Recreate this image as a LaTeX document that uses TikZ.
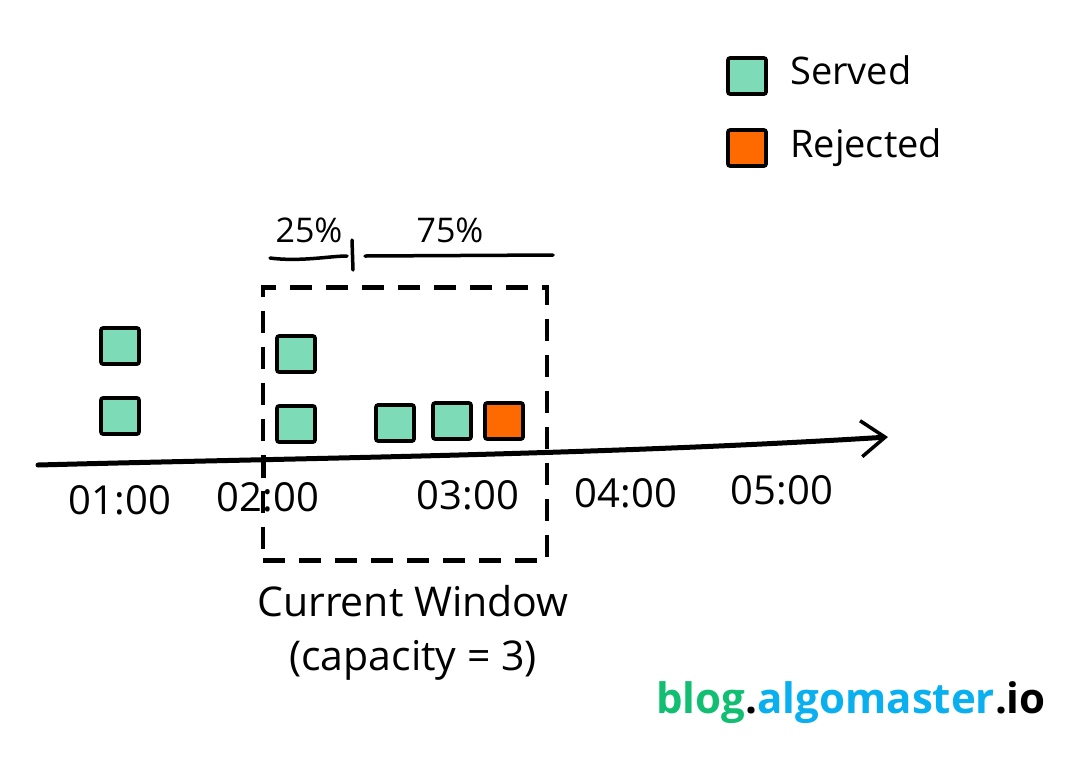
\documentclass[tikz,border=0pt]{standalone}
\usepackage{fontspec}
\setmainfont{Open Sans}
\newfontfamily\wmfont{Open Sans}
\usetikzlibrary{arrows.meta}
\definecolor{servedfill}{HTML}{7DDCB7}
\definecolor{rejfill}{HTML}{FF6A00}
\definecolor{wmgreen}{HTML}{12BF72}
\definecolor{wmblue}{HTML}{0AAFEF}
\tikzset{
  req/.style={draw=black, line width=3.6pt, rounded corners=2pt, minimum width=38pt, minimum height=36pt, inner sep=0pt},
  served/.style={req, fill=servedfill},
  rejected/.style={req, fill=rejfill},
  lbl/.style={font=\fontsize{38}{44}\selectfont, inner sep=0pt},
  caplbl/.style={font=\fontsize{41}{48}\selectfont, inner sep=0pt},
  tlbl/.style={font=\fontsize{40}{46}\selectfont, inner sep=0pt},
  pct/.style={font=\fontsize{34}{40}\selectfont, inner sep=0pt},
  winbox/.style={draw=black, line width=4.5pt, dash pattern=on 22pt off 14pt, minimum width=284pt, minimum height=273pt, inner sep=0pt},
  axisline/.style={line width=5pt, line cap=round, -{Straight Barb[length=24pt, width=36pt, line width=3.5pt]}},
  brk/.style={line width=3.5pt, line cap=round}
}
\begin{document}
\begin{tikzpicture}[x=1pt,y=-1pt]
\useasboundingbox (0,0) rectangle (1086,764);
% legend
\node[served] (ls) at (747,76) {};
\node[lbl, anchor=west] (lst) at (790,70) {Served};
\node[rejected] (lr) at (747,148) {};
\node[lbl, anchor=west] (lrt) at (790,148) {Rejected};
% window
\node[winbox] (win) at (405,424) {};
% axis
\coordinate (a0) at (38,465);
\coordinate (a1) at (888,437);
\draw[axisline] (a0) .. controls (300,458) and (600,455) .. (a1);
% tick at window left on axis
\draw[line width=5pt] (263,455) -- (263,478);
% squares
\node[served] (s1) at (120,346) {};
\node[served] (s2) at (120,416) {};
\node[served] (s3) at (296,354) {};
\node[served] (s4) at (296,424) {};
\node[served] (s5) at (395,423) {};
\node[served] (s6) at (452,421) {};
\node[rejected] (s7) at (504,421) {};
% time labels
\node[tlbl] (t1) at (120,500) {01:00};
\node[tlbl] (t2) at (268,497) {02:00};
\node[tlbl] (t3) at (468,495) {03:00};
\node[tlbl] (t4) at (626,493) {04:00};
\node[tlbl] (t5) at (782,490) {05:00};
% percentage bracket
\node[pct] (p25) at (309,230) {25\%};
\node[pct] (p75) at (450,230) {75\%};
\coordinate (b0) at (270,258);
\coordinate (b1) at (347,256);
\coordinate (bm1) at (352,240);
\coordinate (bm2) at (353,270);
\coordinate (b2) at (365,256);
\coordinate (b3) at (553,255);
\draw[brk] (b0) .. controls (300,262) and (330,256) .. (b1);
\draw[brk] (bm1) -- (bm2);
\draw[brk] (b2) -- (b3);
% caption
\node[caplbl] (cap1) at (413,601) {Current Window};
\node[caplbl] (cap2) at (413,660) {(capacity = 3)};
% watermark
\node[font=\wmfont\bfseries\fontsize{42}{48}\selectfont, anchor=east, inner sep=0pt] (wm) at (1046,703) {\textcolor{wmgreen}{blog}.\textcolor{wmblue}{algomaster}.io};
\end{tikzpicture}
\end{document}
